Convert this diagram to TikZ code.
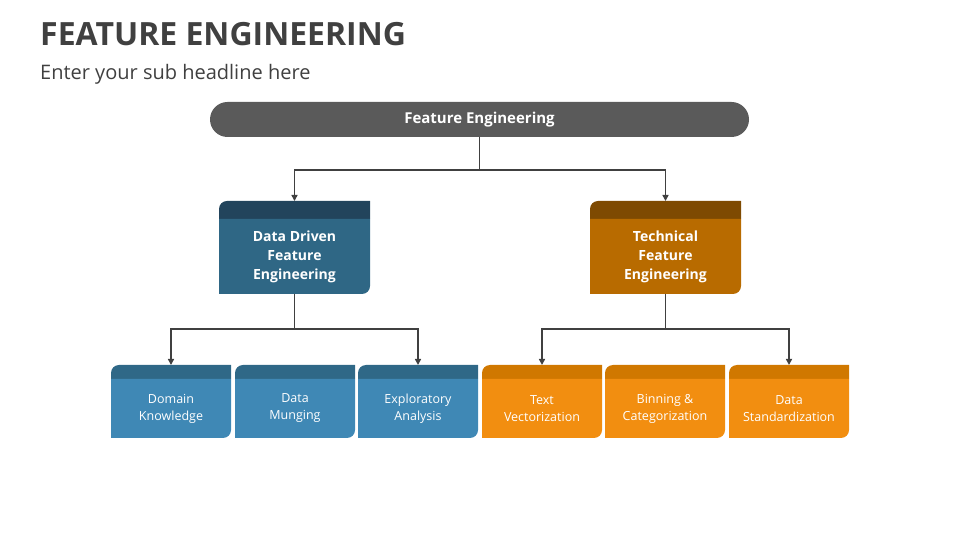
\documentclass[tikz,border=0pt]{standalone}
\usepackage{fontspec}
\setmainfont{Open Sans}
\usetikzlibrary{arrows.meta}
\definecolor{topg}{HTML}{5A5A5A}
\definecolor{dbh}{HTML}{22445C}\definecolor{dbb}{HTML}{2F6785}
\definecolor{lbh}{HTML}{2F6887}\definecolor{lbb}{HTML}{3F88B5}
\definecolor{doh}{HTML}{7E4A02}\definecolor{dob}{HTML}{B86B00}
\definecolor{loh}{HTML}{D07800}\definecolor{lob}{HTML}{F28E10}
\definecolor{ln}{HTML}{404040}
\newcommand\mybox[9]{%
 \fill[#6] (#1,#4) -- (#1,#3-8) arc[start angle=180,end angle=90,radius=8] -- (#2,#3) -- (#2,#4) -- cycle;
 \fill[#7] (#1,#4) -- (#1,#5) -- (#2-8,#5) arc[start angle=270,end angle=360,radius=8] -- (#2,#4) -- cycle;
 \node[box,minimum width=#2-#1,minimum height=#3-#5] (#8) at ({(#1+#2)/2},{(#3+#5)/2}) {};
 \node[txt] (#8-t) at ({(#1+#2)/2},{(#4+#5)/2}) {#9};}
\begin{document}
\begin{tikzpicture}[x=1pt,y=1pt,
 box/.style={inner sep=0,outer sep=0,draw=none},
 txt/.style={text=white,align=center,font=\fontsize{12.5}{17}\selectfont},
 btxt/.style={text=white,align=center,font=\fontsize{14}{19}\selectfont\bfseries},
 conn/.style={draw=ln,line width=1.5pt,-{Triangle[length=6pt,width=6pt]}}]
\useasboundingbox (0,0) rectangle (960,540);
\node[anchor=base west,inner sep=0,text=ln,font=\fontsize{32}{36}\selectfont\bfseries] (title) at (40,494) {FEATURE ENGINEERING};
\node[anchor=base west,inner sep=0,text=ln,font=\fontsize{20}{24}\selectfont] (sub) at (40,460) {Enter your sub headline here};
\node[fill=topg,rounded corners=17.5pt,minimum width=539pt,minimum height=35pt,inner sep=0,text=white,font=\fontsize{15}{18}\selectfont\bfseries] (top) at (479.5,420.5) {Feature Engineering};
\mybox{219}{370}{339}{321}{246}{dbh}{dbb}{ddf}{}
\node[btxt] at (ddf-t) {Data Driven\\Feature\\Engineering};
\mybox{590}{741}{339}{321}{246}{doh}{dob}{tfe}{}
\node[btxt] at (tfe-t) {Technical\\Feature\\Engineering};
\mybox{111}{231}{175}{161}{102}{lbh}{lbb}{dk}{Domain\\Knowledge}
\mybox{235}{355}{175}{161}{102}{lbh}{lbb}{dm}{Data\\Munging}
\mybox{358}{478}{175}{161}{102}{lbh}{lbb}{ea}{Exploratory\\Analysis}
\mybox{482}{602}{175}{161}{102}{loh}{lob}{tv}{Text\\Vectorization}
\mybox{605}{725}{175}{161}{102}{loh}{lob}{bc}{Binning \&\\Categorization}
\mybox{729}{849}{175}{161}{102}{loh}{lob}{ds}{Data\\Standardization}
\draw[conn] (top.south) -- (top.south |- 0,370) -| (ddf.north);
\draw[conn] (top.south) -- (top.south |- 0,370) -| (tfe.north);
\draw[conn] (ddf.south) -- (ddf.south |- 0,211) -| (dk.north);
\draw[conn] (ddf.south) -- (ddf.south |- 0,211) -| (ea.north);
\draw[conn] (tfe.south) -- (tfe.south |- 0,211) -| (tv.north);
\draw[conn] (tfe.south) -- (tfe.south |- 0,211) -| (ds.north);
\end{tikzpicture}
\end{document}
